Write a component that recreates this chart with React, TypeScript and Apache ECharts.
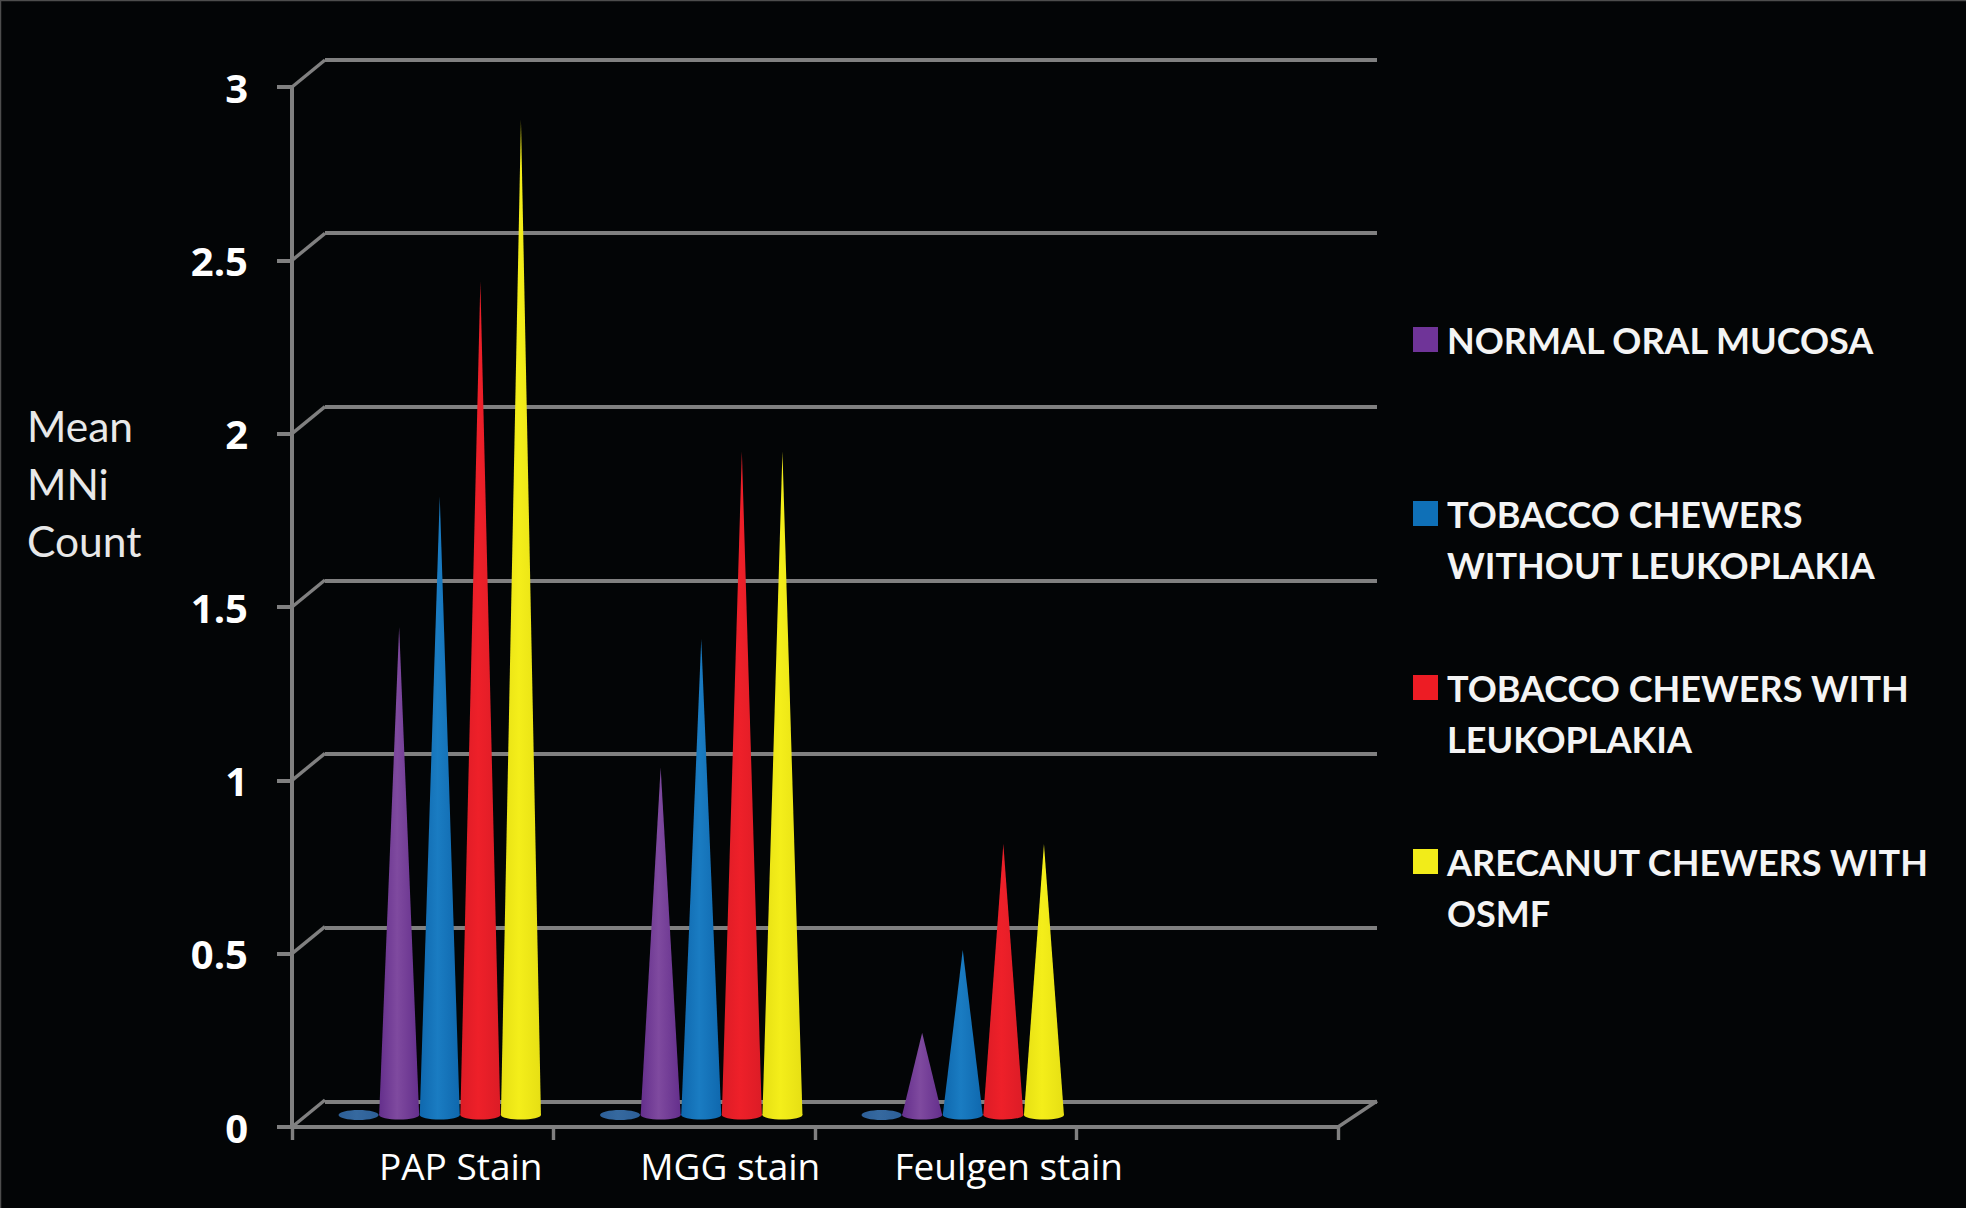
import React, { useEffect, useRef } from "react";
import * as echarts from "echarts";

const categories = ["PAP Stain", "MGG stain", "Feulgen stain", ""];
const yTicks = [0, 0.5, 1, 1.5, 2, 2.5, 3];

const baselineSeries = [0, 0, 0];
const normalMucosa = [1.405, 1.0, 0.237];
const withoutLeukoplakia = [1.78, 1.37, 0.475];
const withLeukoplakia = [2.4, 1.91, 0.78];
const arecanutOsmf = [2.865, 1.91, 0.78];

const legendNames = [
  "NORMAL ORAL MUCOSA",
  "TOBACCO CHEWERS\nWITHOUT LEUKOPLAKIA",
  "TOBACCO CHEWERS WITH\nLEUKOPLAKIA",
  "ARECANUT CHEWERS WITH\nOSMF",
];
const legendCentres = [339.5, 513.5, 687.5, 861.5];

const coneColors = [
  ["#2c5f98", "#36699f"],
  ["#642f8c", "#7f4a9f"],
  ["#0f68ae", "#1a7cc2"],
  ["#dc1c26", "#ee2029"],
  ["#e6df14", "#f4ee1a"],
];
const legendColors = ["#6f3498", "#0f70b7", "#ed1c24", "#f2ec19"];
const labelShift = [76, 92, 126];

const GREY = "#808080";
const LINE = 4;
const LEGEND_LINE = 51;

function coneSeries(name: string, values: number[], index: number) {
  const [edge, mid] = coneColors[index];
  return {
    type: "custom",
    name,
    xAxisIndex: 2,
    yAxisIndex: 2,
    z: 3 + index,
    clip: false,
    itemStyle: { color: index > 0 ? legendColors[index - 1] : edge },
    data: values.map((v, i) => [i, v]),
    renderItem: (_p: any, api: any) => {
      const cat = api.value(0);
      const val = api.value(1);
      const band = api.size([1, 0])[0];
      const cx = api.coord([cat, 0])[0] + ((index - 2) * 40.6 * band) / 261.5;
      const baseY = api.coord([cat, 0])[1];
      const tipY = api.coord([cat, val])[1];
      const r = (20 * band) / 261.5;
      const fill = new echarts.graphic.LinearGradient(0, 0, 1, 0, [
        { offset: 0, color: edge },
        { offset: 0.45, color: mid },
        { offset: 1, color: edge },
      ]);
      return {
        type: "group",
        children: [
          {
            type: "polygon",
            shape: { points: [[cx - r, baseY], [cx, tipY], [cx + r, baseY]] },
            style: { fill },
          },
          {
            type: "ellipse",
            shape: { cx, cy: baseY, rx: r, ry: index === 0 ? 5 : 4.5 },
            style: { fill },
          },
        ],
      };
    },
  };
}

function connectorSeries(data: number[][], dx: number, dy: number) {
  return {
    type: "custom",
    xAxisIndex: 0,
    yAxisIndex: 0,
    z: 1,
    clip: false,
    silent: true,
    data,
    renderItem: (_p: any, api: any) => {
      const band = api.size([1, 0])[0];
      const [x, y] = api.coord([api.value(0), api.value(1)]);
      const side = api.value(2);
      const sx = x + (side * band) / 2;
      return {
        type: "line",
        shape: { x1: sx, y1: y, x2: sx + dx, y2: y - dy },
        style: { stroke: GREY, lineWidth: 3.4 },
      };
    },
  };
}

export default function App() {
  const ref = useRef<HTMLDivElement>(null);
  useEffect(() => {
    document.body.style.margin = "0";
    document.body.style.background = "#030506";
    document.body.style.overflow = "hidden";
    const chart = echarts.init(ref.current!, undefined, { renderer: "svg" });
    const hiddenAxis = { show: false };
    chart.setOption({
      animation: false,
      backgroundColor: "#030506",
      grid: [
        { left: 292, top: 87, width: 1046, height: 1040 },
        { left: 325, top: 59.3, width: 1052, height: 1042.2 },
        { left: 309, top: 73, width: 1046, height: 1042 },
      ],
      xAxis: [
        {
          type: "category",
          gridIndex: 0,
          data: categories.map((c, i) => ({
            value: c,
            textStyle: { padding: [0, 0, 0, labelShift[i] ?? 0] },
          })),
          boundaryGap: true,
          axisLine: { lineStyle: { color: GREY, width: LINE } },
          axisTick: { show: true, length: 13, interval: 0, lineStyle: { color: GREY, width: 3.4 } },
          axisLabel: {
            show: true,
            interval: 0,
            margin: 20,
            color: "#ffffff",
            fontFamily: "Open Sans",
            fontSize: 37,
          },
        },
        { type: "category", gridIndex: 1, data: categories, ...hiddenAxis },
        { type: "category", gridIndex: 2, data: categories, ...hiddenAxis },
      ],
      yAxis: [
        {
          type: "value",
          gridIndex: 0,
          min: 0,
          max: 3,
          interval: 0.5,
          axisLine: { show: true, lineStyle: { color: GREY, width: LINE } },
          axisTick: { show: true, length: 15, lineStyle: { color: GREY, width: LINE } },
          splitLine: { show: false },
          axisLabel: {
            margin: 44,
            color: "#ffffff",
            fontFamily: "Open Sans",
            fontWeight: "bold",
            fontSize: 40,
          },
        },
        {
          type: "value",
          gridIndex: 1,
          min: 0,
          max: 3,
          interval: 0.5,
          axisLine: { show: false },
          axisTick: { show: false },
          axisLabel: { show: false },
          splitLine: { show: true, lineStyle: { color: GREY, width: LINE } },
        },
        { type: "value", gridIndex: 2, min: 0, max: 3, interval: 0.5, ...hiddenAxis },
      ],
      legend: legendNames.map((name, i) => {
        const twoLines = name.includes("\n");
        return {
          data: [name],
          left: 1413,
          top: legendCentres[i] - (twoLines ? 1.5 : 0.5) * LEGEND_LINE,
          orient: "vertical",
          icon: "path://M0 0H25V25H0Z M29 0L29 0",
          itemWidth: 29,
          itemHeight: 25,
          itemGap: 0,
          padding: 0,
          selectedMode: false,
          formatter: twoLines ? "\n" + name : name,
          textStyle: {
            color: "#f4f4f4",
            fontFamily: "Lato",
            fontWeight: "bold",
            fontSize: 36,
            lineHeight: LEGEND_LINE,
          },
        };
      }),
      graphic: [
        {
          type: "polyline",
          shape: { points: [[0.5, 1208], [0.5, 0.5], [1966, 0.5]] },
          style: { stroke: "#4d4d4d", lineWidth: 1.5, fill: "none" },
        },
        {
          type: "text",
          left: 27,
          top: 397,
          style: {
            text: "Mean\nMNi\nCount",
            fill: "#e8e8e8",
            font: '42.5px "Lato"',
            lineHeight: 57.5,
          },
        },
      ],
      series: [
        connectorSeries(yTicks.map((v) => [0, v, -1]), 33, 27),
        connectorSeries([[3, 0, 1]], 39, 26),
        coneSeries("baseline", baselineSeries, 0),
        coneSeries(legendNames[0], normalMucosa, 1),
        coneSeries(legendNames[1], withoutLeukoplakia, 2),
        coneSeries(legendNames[2], withLeukoplakia, 3),
        coneSeries(legendNames[3], arecanutOsmf, 4),
      ],
    });
    return () => chart.dispose();
  }, []);
  return <div ref={ref} style={{ width: 1966, height: 1208 }} />;
}
